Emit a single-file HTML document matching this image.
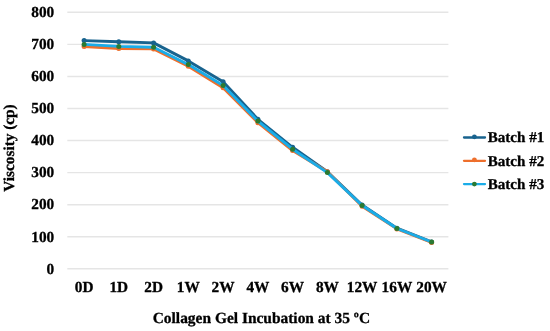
<!DOCTYPE html><html><head><meta charset="utf-8"><title>Viscosity chart</title><style>html,body{margin:0;padding:0;background:#fff}svg{display:block}text{font-family:"Liberation Serif",serif;font-weight:bold;fill:#000;stroke:#000;stroke-width:0.3px;text-rendering:geometricPrecision}</style></head><body>
<svg width="550" height="331" viewBox="0 0 550 331">
<rect width="550" height="331" fill="#fff"/>
<line x1="67.3" x2="448.4" y1="268.80" y2="268.80" stroke="#e5e5e5" stroke-width="1.4"/>
<line x1="67.3" x2="448.4" y1="236.74" y2="236.74" stroke="#e5e5e5" stroke-width="1.4"/>
<line x1="67.3" x2="448.4" y1="204.68" y2="204.68" stroke="#e5e5e5" stroke-width="1.4"/>
<line x1="67.3" x2="448.4" y1="172.62" y2="172.62" stroke="#e5e5e5" stroke-width="1.4"/>
<line x1="67.3" x2="448.4" y1="140.56" y2="140.56" stroke="#e5e5e5" stroke-width="1.4"/>
<line x1="67.3" x2="448.4" y1="108.50" y2="108.50" stroke="#e5e5e5" stroke-width="1.4"/>
<line x1="67.3" x2="448.4" y1="76.44" y2="76.44" stroke="#e5e5e5" stroke-width="1.4"/>
<line x1="67.3" x2="448.4" y1="44.38" y2="44.38" stroke="#e5e5e5" stroke-width="1.4"/>
<line x1="67.3" x2="448.4" y1="12.32" y2="12.32" stroke="#e5e5e5" stroke-width="1.4"/>
<polyline points="84.1,40.6 118.8,41.8 153.6,42.9 188.3,60.9 223.1,81.8 257.9,119.3 292.6,147.3 327.4,171.7 362.1,205.0 396.9,228.2 431.6,241.9" fill="none" stroke="#18638e" stroke-width="2.9" stroke-linejoin="round" stroke-linecap="round"/><circle cx="84.1" cy="40.6" r="2.5" fill="#18638e"/><circle cx="118.8" cy="41.8" r="2.5" fill="#18638e"/><circle cx="153.6" cy="42.9" r="2.5" fill="#18638e"/><circle cx="188.3" cy="60.9" r="2.5" fill="#18638e"/><circle cx="223.1" cy="81.8" r="2.5" fill="#18638e"/><circle cx="257.9" cy="119.3" r="2.5" fill="#18638e"/><circle cx="292.6" cy="147.3" r="2.5" fill="#18638e"/><circle cx="327.4" cy="171.7" r="2.5" fill="#18638e"/><circle cx="362.1" cy="205.0" r="2.5" fill="#18638e"/><circle cx="396.9" cy="228.2" r="2.5" fill="#18638e"/><circle cx="431.6" cy="241.9" r="2.5" fill="#18638e"/>
<polyline points="84.1,46.5 118.8,48.5 153.6,48.9 188.3,66.2 223.1,87.7 257.9,122.7 292.6,150.6 327.4,171.8 362.1,206.2 396.9,228.9 431.6,242.4" fill="none" stroke="#ee6f2c" stroke-width="2.9" stroke-linejoin="round" stroke-linecap="round"/><circle cx="84.1" cy="46.5" r="2.5" fill="#ee6f2c"/><circle cx="118.8" cy="48.5" r="2.5" fill="#ee6f2c"/><circle cx="153.6" cy="48.9" r="2.5" fill="#ee6f2c"/><circle cx="188.3" cy="66.2" r="2.5" fill="#ee6f2c"/><circle cx="223.1" cy="87.7" r="2.5" fill="#ee6f2c"/><circle cx="257.9" cy="122.7" r="2.5" fill="#ee6f2c"/><circle cx="292.6" cy="150.6" r="2.5" fill="#ee6f2c"/><circle cx="327.4" cy="171.8" r="2.5" fill="#ee6f2c"/><circle cx="362.1" cy="206.2" r="2.5" fill="#ee6f2c"/><circle cx="396.9" cy="228.9" r="2.5" fill="#ee6f2c"/><circle cx="431.6" cy="242.4" r="2.5" fill="#ee6f2c"/>
<polyline points="84.1,44.4 118.8,46.4 153.6,47.2 188.3,64.6 223.1,85.4 257.9,121.1 292.6,149.2 327.4,172.6 362.1,205.5 396.9,228.5 431.6,242.0" fill="none" stroke="#1aace8" stroke-width="2.9" stroke-linejoin="round" stroke-linecap="round"/><circle cx="84.1" cy="44.4" r="2.5" fill="#2a7a32"/><circle cx="118.8" cy="46.4" r="2.5" fill="#2a7a32"/><circle cx="153.6" cy="47.2" r="2.5" fill="#2a7a32"/><circle cx="188.3" cy="64.6" r="2.5" fill="#2a7a32"/><circle cx="223.1" cy="85.4" r="2.5" fill="#2a7a32"/><circle cx="257.9" cy="121.1" r="2.5" fill="#2a7a32"/><circle cx="292.6" cy="149.2" r="2.5" fill="#2a7a32"/><circle cx="327.4" cy="172.6" r="2.5" fill="#2a7a32"/><circle cx="362.1" cy="205.5" r="2.5" fill="#2a7a32"/><circle cx="396.9" cy="228.5" r="2.5" fill="#2a7a32"/><circle cx="431.6" cy="242.0" r="2.5" fill="#2a7a32"/>
<text x="54.2" y="273.6" font-size="15.3" text-anchor="end">0</text>
<text x="54.2" y="241.5" font-size="15.3" text-anchor="end">100</text>
<text x="54.2" y="209.3" font-size="15.3" text-anchor="end">200</text>
<text x="54.2" y="177.2" font-size="15.3" text-anchor="end">300</text>
<text x="54.2" y="145.0" font-size="15.3" text-anchor="end">400</text>
<text x="54.2" y="112.9" font-size="15.3" text-anchor="end">500</text>
<text x="54.2" y="80.8" font-size="15.3" text-anchor="end">600</text>
<text x="54.2" y="48.6" font-size="15.3" text-anchor="end">700</text>
<text x="54.2" y="16.5" font-size="15.3" text-anchor="end">800</text>
<text x="84.1" y="292.2" font-size="15.3" text-anchor="middle">0D</text>
<text x="118.8" y="292.2" font-size="15.3" text-anchor="middle">1D</text>
<text x="153.6" y="292.2" font-size="15.3" text-anchor="middle">2D</text>
<text x="188.3" y="292.2" font-size="15.3" text-anchor="middle">1W</text>
<text x="223.1" y="292.2" font-size="15.3" text-anchor="middle">2W</text>
<text x="257.9" y="292.2" font-size="15.3" text-anchor="middle">4W</text>
<text x="292.6" y="292.2" font-size="15.3" text-anchor="middle">6W</text>
<text x="327.4" y="292.2" font-size="15.3" text-anchor="middle">8W</text>
<text x="362.1" y="292.2" font-size="15.3" text-anchor="middle">12W</text>
<text x="396.9" y="292.2" font-size="15.3" text-anchor="middle">16W</text>
<text x="431.6" y="292.2" font-size="15.3" text-anchor="middle">20W</text>
<text x="261.4" y="323" font-size="15.45" text-anchor="middle">Collagen Gel Incubation at 35 ºC</text>
<text transform="translate(13.9 148.0) rotate(-90)" font-size="15.3" text-anchor="middle">Viscosity (cp)</text>
<line x1="464" x2="485" y1="137.5" y2="137.5" stroke="#18638e" stroke-width="2.3" stroke-linecap="round"/><circle cx="474.4" cy="136.8" r="2.4" fill="#18638e"/>
<text x="487.8" y="142.3" font-size="15.05">Batch #1</text>
<line x1="464" x2="485" y1="160.8" y2="160.8" stroke="#ee6f2c" stroke-width="2.3" stroke-linecap="round"/><circle cx="474.4" cy="159.8" r="2.4" fill="#ee6f2c"/>
<text x="487.8" y="165.6" font-size="15.05">Batch #2</text>
<line x1="464" x2="485" y1="184.1" y2="184.1" stroke="#1aace8" stroke-width="2.3" stroke-linecap="round"/><circle cx="474.4" cy="184.1" r="2.4" fill="#2a7a32"/>
<text x="487.8" y="188.9" font-size="15.05">Batch #3</text>
</svg></body></html>
